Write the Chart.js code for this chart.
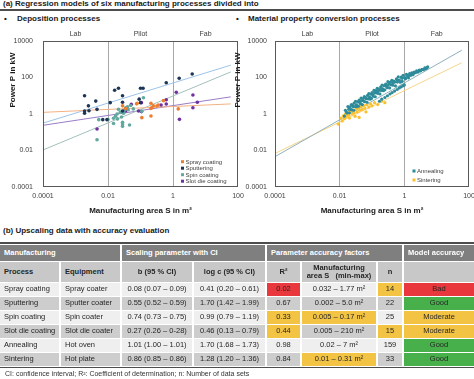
<!DOCTYPE html>
<html><head><meta charset="utf-8">
<script src="https://cdn.jsdelivr.net/npm/chart.js@4.4.1/dist/chart.umd.min.js"></script>
<style>
html,body{margin:0;padding:0}
body{width:474px;height:379px;overflow:hidden;position:relative;background:#fff;font-family:"Liberation Sans",Arial,sans-serif;color:#1a1a1a}
.abs{position:absolute;white-space:nowrap}
.h{font-weight:bold;font-size:8px;line-height:10px}
.rule{position:absolute;left:0;width:474px;background:#4d4d4d}
canvas{position:absolute;top:0}
.cell{position:absolute;box-sizing:border-box;font-size:7.5px;display:flex;align-items:center;white-space:pre;overflow:hidden;text-align:center;line-height:8.5px;color:#262626}
</style></head><body>
<div class="abs h" style="left:3px;top:-1px">(a) Regression models of six manufacturing processes divided into</div>
<div class="rule" style="top:9px;height:1.5px"></div>
<div class="abs h" style="left:4px;top:14px">•</div>
<div class="abs h" style="left:17px;top:14px">Deposition processes</div>
<div class="abs h" style="left:236px;top:14px">•</div>
<div class="abs h" style="left:248px;top:14px">Material property conversion processes</div>
<canvas id="c1" width="250" height="222" style="left:0"></canvas>
<canvas id="c2" width="250" height="222" style="left:232px"></canvas>
<div class="abs h" style="left:3px;top:226px">(b) Upscaling data with accuracy evaluation</div>
<div class="rule" style="top:242px;height:2px"></div>
<div id="tbl"></div>
<div class="rule" style="top:366.5px;height:1.5px"></div>
<div class="abs" style="left:5px;top:369px;font-size:7px;line-height:9px;color:#333">CI: confidence interval; R²: Coefficient of determination; n: Number of data sets</div>
<script>
// ---------- chart data ----------
const xTickVals = [0.0001, 0.01, 1, 100];
const xTickLabels = ['0.0001', '0.01', '1', '100'];
const yTickVals = [0.0001, 0.01, 1, 100, 10000];
const yTickLabels = ['0.0001', '0.01', '1', '100', '10000'];
const regionNames = ['Lab', 'Pilot', 'Fab'];
const regionCenters = [0.001, 0.1, 10];
const gridVals = [0.01, 1];

const sprayS = [0.028,0.076,0.079,0.21,0.25,0.32,0.355,0.21,0.51,0.11,0.21,1.45,0.035,0.22];
const sprayP = [2.8,3.6,3.9,3.9,2.8,2.75,3.1,2.0,5.4,0.63,0.78,1.9,2.0,2.2];

const sputterS = [0.0019,0.0042,0.0025,0.0019,0.0019,0.0026,0.0046,0.0069,0.0093,0.0117,0.016,0.021,0.028,0.028,0.10,0.12,0.62,1.55,3.9,0.091,0.10,0.028];
const sputterP = [10,5.1,2.8,1.45,1.1,1.5,1.8,0.49,0.49,4.2,20,26,10,4.4,26,26,52,91,155,6.5,4.2,1.45];

const spinS = [0.0052,0.0046,0.0148,0.0195,0.026,0.0148,0.028,0.028,0.046,0.021,0.035,0.038,0.123,0.11,0.028,0.024,0.032,0.04,0.01,0.03,0.042,0.019,0.05,0.017,0.06];
const spinP = [0.49,0.039,0.58,0.54,0.69,0.30,0.28,0.21,0.25,1.8,2.2,2.0,7.8,1.4,0.35,1.26,1.6,2.5,0.5,1.1,1.7,1.0,2.9,0.75,1.9];

const slotS = [0.0046,0.035,0.052,0.43,0.62,1.26,4.1,5.6,4.1,0.087,0.107,1.58,0.028,0.107,0.62];
const slotP = [0.15,1.45,3.4,3.1,6.0,15.5,11,4.4,2.2,1.45,1.35,0.51,1.26,4.2,3.5];

const annealS = [0.014,0.015,0.016,0.017,0.018,0.019,0.02,0.021,0.022,0.023,0.024,0.025,0.026,0.027,0.028,0.03,0.031,0.033,0.034,0.036,0.038,0.04,0.042,0.044,0.046,0.048,0.05,0.053,0.056,0.058,0.06,0.063,0.066,0.07,0.073,0.076,0.08,0.084,0.088,0.092,0.096,0.1,0.105,0.11,0.115,0.12,0.126,0.132,0.138,0.145,0.152,0.16,0.168,0.176,0.185,0.195,0.205,0.215,0.225,0.24,0.25,0.265,0.28,0.295,0.31,0.33,0.35,0.37,0.39,0.41,0.44,0.47,0.5,0.53,0.57,0.61,0.65,0.7,0.75,0.8,0.86,0.92,1.0,1.08,1.16,1.25,1.35,1.46,1.58,1.7,1.85,2.0,2.2,2.4,2.65,2.9,3.2,3.5,3.9,4.3,4.8,5.3,1.1,1.3,1.5,1.9,2.5,3.0,3.7,4.5,5.0,0.15,0.2,0.3,0.45,0.6,0.85,0.17,0.2,0.25,0.3,0.36,0.42,0.5,0.6,0.7,0.8,0.9,1.0];
const annealP = [0.77,1.6,1.3,1.12,2.56,1.8,1.17,2.5,1.8,3.3,1.7,3.0,2.55,1.6,3.9,2.55,5.0,3.2,2.5,4.6,2.7,5.7,4.3,3.6,7.5,5.4,3.3,7.0,5.1,9.0,4.7,7.9,6.9,4.4,10.4,6.8,13.2,8.5,6.5,12.1,7.1,14.8,11.2,9.4,19.7,14.1,8.8,18.9,14.4,25.5,13.5,22.8,20,12.6,29.7,19.6,38,24.2,18.9,35.6,21,44,33,28,59,43,26.7,56,40.5,70,37.5,64,56,35,84,56,108,71,55,105,62,133,100,85,147,132,96,164,132,180,143,198,182,230,198,258,238,284,267,335,325,378,95,115,140,165,210,230,275,300,350,17,24,36,52,70,90,5,6.5,8,10,12.5,15,18,22,27,31,35,39];

const sinterS = [0.009,0.011,0.012,0.013,0.014,0.015,0.016,0.018,0.019,0.02,0.022,0.024,0.026,0.028,0.03,0.032,0.035,0.038,0.04,0.042,0.045,0.05,0.055,0.06,0.065,0.07,0.08,0.09,0.1,0.12,0.15,0.2,0.25];
const sinterP = [0.28,0.6,0.42,0.8,0.55,1.0,0.7,1.2,0.85,0.6,1.4,1.0,1.6,1.15,0.75,1.9,1.3,2.2,0.65,1.6,2.5,1.8,2.9,2.1,1.3,3.2,2.4,3.6,2.8,4.2,3.3,5.0,4.2];

// regression line end points (S = 0.0001 and S = 60)
const fitS = [0.0001, 60];
const sprayFitP = [1.23, 3.57];
const sputterFitP = [0.316, 476];
const spinFitP = [0.0107, 202];
const slotFitP = [0.24, 8.7];
const annealFitP = [0.0046, 3130];
const sinterFitP = [0.0069, 645];

// ---------- table data ----------
const processes = ['Spray coating','Sputtering','Spin coating','Slot die coating','Annealing','Sintering'];
const equipment = ['Spray coater','Sputter coater','Spin coater','Slot die coater','Hot oven','Hot plate'];
const bCI = ['0.08 (0.07 – 0.09)','0.55 (0.52 – 0.59)','0.74 (0.73 – 0.75)','0.27 (0.26 – 0-28)','1.01 (1.00 – 1.01)','0.86 (0.85 – 0.86)'];
const logcCI = ['0.41 (0.20 – 0.61)','1.70 (1.42 – 1.99)','0.99 (0.79 – 1.19)','0.46 (0.13 – 0.79)','1.70 (1.68 – 1.73)','1.28 (1.20 – 1.36)'];
const r2 = ['0.02','0.67','0.33','0.44','0.98','0.84'];
const areaRange = ['0.032 – 1.77 m²','0.002 – 5.0 m²','0.005 – 0.17 m²','0.005 – 210 m²','0.02 – 7 m²','0.01 – 0.31 m²'];
const nVals = ['14','22','25','15','159','33'];
const accuracy = ['Bad','Good','Moderate','Moderate','Good','Good'];
const r2Flag = ['R','','Y','Y','',''];
const areaFlag = ['','','Y','','','Y'];
const nFlag = ['Y','','','Y','',''];
const accFlag = ['R','G','Y','Y','G','G'];

// ---------- charts ----------
Chart.defaults.font.family = '"Liberation Sans", Arial, sans-serif';
const pts = (xs, ys) => xs.map((v, i) => ({x: v, y: ys[i]}));

const decoPlugin = {
  id: 'deco',
  afterDatasetsDraw(chart, args, o) {
    const {ctx, chartArea: a, scales: {x}} = chart;
    ctx.save();
    ctx.strokeStyle = '#595959'; ctx.lineWidth = 1;
    ctx.strokeRect(a.left + 0.5, a.top + 0.5, a.right - a.left - 1, a.bottom - a.top - 1);
    ctx.fillStyle = '#404040'; ctx.font = '7px "Liberation Sans"';
    ctx.textAlign = 'center'; ctx.textBaseline = 'middle';
    regionNames.forEach((n, i) => ctx.fillText(n, x.getPixelForValue(regionCenters[i]), a.top - 6.5));
    ctx.save();
    ctx.translate(o.ytx, o.yty); ctx.rotate(-Math.PI / 2);
    ctx.font = 'bold 8px "Liberation Sans"'; ctx.fillStyle = '#1a1a1a';
    ctx.fillText('Power P in kW', 0, 0);
    ctx.restore();
    const items = chart.data.datasets.filter(d => d.inLegend);
    items.forEach((d, i) => {
      const y = o.ly + i * o.ls;
      ctx.fillStyle = d.backgroundColor;
      ctx.fillRect(o.lx - 1.5, y - 1.5, 3, 3);
      ctx.fillStyle = '#404040'; ctx.textAlign = 'left';
      ctx.font = '6px "Liberation Sans"';
      ctx.fillText(d.label, o.lx + 3, y + 0.5);
    });
    ctx.restore();
  }
};

function scales(yPad) {
  return {
    x: {
      type: 'logarithmic', min: 0.0001, max: 100,
      afterBuildTicks: s => { s.ticks = xTickVals.map(v => ({value: v})); },
      afterFit: s => { s.height = 35; },
      ticks: {callback: (v, i) => xTickLabels[i], autoSkip: false, maxRotation: 0, padding: 5, font: {size: 7}, color: '#404040'},
      grid: {drawTicks: false, lineWidth: 1, color: c => (c.tick && gridVals.includes(c.tick.value)) ? '#a8a8a8' : 'rgba(0,0,0,0)'},
      border: {display: false},
      title: {display: true, text: 'Manufacturing area S in m²', font: {size: 8, weight: 'bold'}, color: '#1a1a1a', padding: {top: 0, bottom: 6}}
    },
    y: {
      type: 'logarithmic', min: 0.0001, max: 10000,
      afterBuildTicks: s => { s.ticks = yTickVals.map(v => ({value: v})); },
      afterFit: s => { s.width = 43; },
      ticks: {callback: (v, i) => yTickLabels[i], autoSkip: false, padding: yPad, font: {size: 7}, color: '#404040'},
      grid: {drawTicks: false, color: 'rgba(0,0,0,0)'},
      border: {display: false}
    }
  };
}

function ptSet(label, xs, ys, color, r) {
  return {label, inLegend: true, data: pts(xs, ys), backgroundColor: color, borderWidth: 0, pointRadius: r, pointHoverRadius: r};
}
function lineSet(ys, color) {
  return {data: pts(fitS, ys), showLine: true, pointRadius: 0, borderColor: color, borderWidth: 1, backgroundColor: color, fill: false};
}

new Chart(document.getElementById('c1'), {
  type: 'scatter',
  data: {datasets: [
    ptSet('Spray coating', sprayS, sprayP, '#ed7d31', 1.8),
    ptSet('Sputtering', sputterS, sputterP, '#1d3557', 1.8),
    ptSet('Spin coating', spinS, spinP, '#62a89f', 1.8),
    ptSet('Slot die coating', slotS, slotP, '#7030a0', 1.8),
    lineSet(sprayFitP, '#f4b183'),
    lineSet(sputterFitP, '#9dc3e6'),
    lineSet(spinFitP, '#a3c0bc'),
    lineSet(slotFitP, '#9a7cc6')
  ]},
  options: {
    responsive: false, animation: false, devicePixelRatio: 1, events: [],
    layout: {padding: {top: 41, right: 12, left: 0, bottom: 0}},
    scales: scales(10),
    plugins: {legend: {display: false}, tooltip: {enabled: false},
      deco: {ytx: 12.5, yty: 80, lx: 182.5, ly: 161.7, ls: 6.5}}
  },
  plugins: [decoPlugin]
});

new Chart(document.getElementById('c2'), {
  type: 'scatter',
  data: {datasets: [
    ptSet('Annealing', annealS, annealP, '#2e8b9a', 1.6),
    ptSet('Sintering', sinterS, sinterP, '#fbc02d', 1.6),
    lineSet(annealFitP, '#8fb1bb'),
    lineSet(sinterFitP, '#f8d48a')
  ]},
  options: {
    responsive: false, animation: false, devicePixelRatio: 1, events: [],
    layout: {padding: {top: 41, right: 13, left: 0, bottom: 0}},
    scales: scales(8),
    plugins: {legend: {display: false}, tooltip: {enabled: false},
      deco: {ytx: 6, yty: 80, lx: 182, ly: 171, ls: 9}}
  },
  plugins: [decoPlugin]
});

// ---------- table ----------
const colX = [0, 61, 122, 194, 267, 302, 378, 404, 474];
const rowY = [245, 262, 283, 297, 311, 325, 339, 353, 367];
const flagColor = {R: '#e8383d', Y: '#f3c344', G: '#47b04b'};
const tbl = document.getElementById('tbl');
function cell(c0, c1, r, text, bg, opt) {
  opt = opt || {};
  const d = document.createElement('div');
  d.className = 'cell';
  d.style.left = colX[c0] + 'px';
  d.style.width = (colX[c1] - colX[c0] - (c1 < 8 ? 2 : 0)) + 'px';
  d.style.top = rowY[r] + 'px';
  d.style.height = (rowY[r + 1] - rowY[r] - 1) + 'px';
  d.style.background = bg;
  d.style.justifyContent = opt.left ? 'flex-start' : 'center';
  if (opt.left) d.style.paddingLeft = '4px';
  if (opt.bold) d.style.fontWeight = 'bold';
  if (opt.color) d.style.color = opt.color;
  d.textContent = text;
  tbl.appendChild(d);
}
const h1 = '#7f7f7f', h2 = '#c8c8c8';
cell(0, 2, 0, 'Manufacturing', h1, {left: true, bold: true, color: '#fff'});
cell(2, 4, 0, 'Scaling parameter with CI', h1, {left: true, bold: true, color: '#fff'});
cell(4, 7, 0, 'Parameter accuracy factors', h1, {left: true, bold: true, color: '#fff'});
cell(7, 8, 0, 'Model accuracy', h1, {left: true, bold: true, color: '#fff'});
cell(0, 1, 1, 'Process', h2, {left: true, bold: true});
cell(1, 2, 1, 'Equipment', h2, {left: true, bold: true});
cell(2, 3, 1, 'b (95 % CI)', h2, {bold: true});
cell(3, 4, 1, 'log c (95 % CI)', h2, {bold: true});
cell(4, 5, 1, 'R²', h2, {bold: true});
cell(5, 6, 1, 'Manufacturing\narea S   (min-max)', h2, {bold: true});
cell(6, 7, 1, 'n', h2, {bold: true});
cell(7, 8, 1, '', h2);
processes.forEach((p, i) => {
  const r = i + 2;
  const base = i % 2 === 0 ? '#efefef' : '#cdcdcd';
  const f = k => k ? flagColor[k] : base;
  cell(0, 1, r, p, base, {left: true});
  cell(1, 2, r, equipment[i], base, {left: true});
  cell(2, 3, r, bCI[i], base);
  cell(3, 4, r, logcCI[i], base);
  cell(4, 5, r, r2[i], f(r2Flag[i]));
  cell(5, 6, r, areaRange[i], f(areaFlag[i]));
  cell(6, 7, r, nVals[i], f(nFlag[i]));
  cell(7, 8, r, accuracy[i], f(accFlag[i]));
});
</script>
</body></html>
